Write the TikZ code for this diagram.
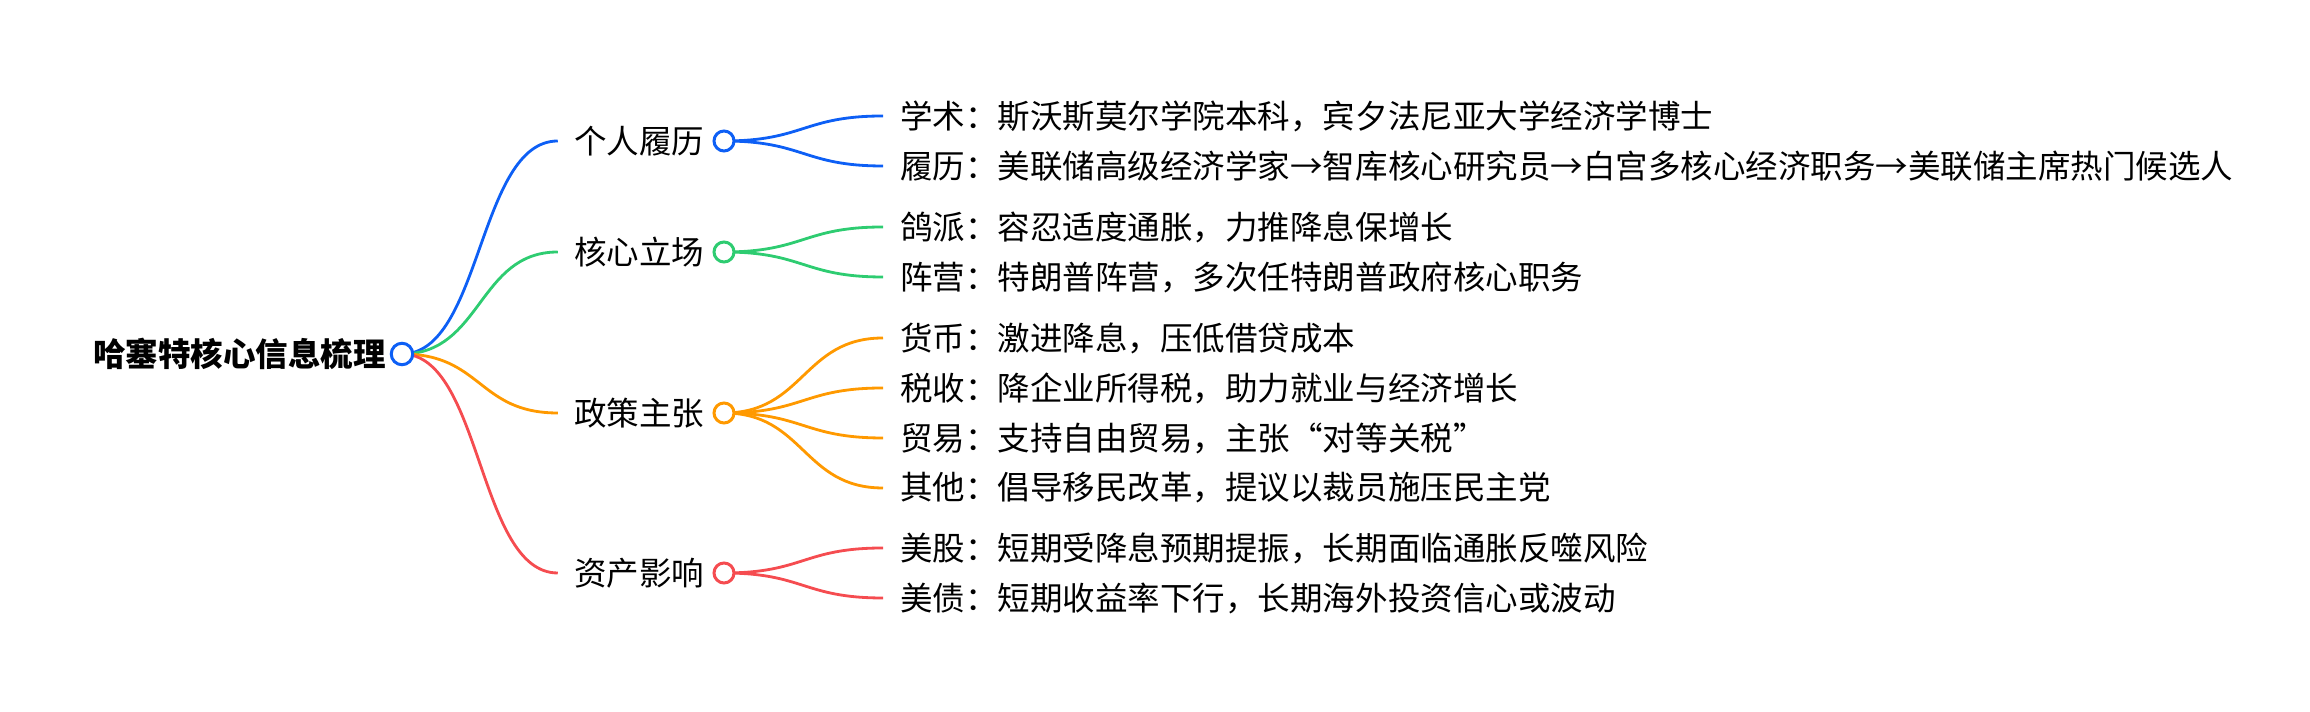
\documentclass[tikz,border=0pt]{standalone}
\usepackage{fontspec}
\usepackage{xcolor}
\usepackage{tikz}
\usetikzlibrary{positioning,calc,backgrounds}
\newfontfamily\cjk{Noto Sans CJK SC}
\definecolor{mapblue}{RGB}{13,95,245}
\definecolor{mapgreen}{RGB}{46,204,113}
\definecolor{maporange}{RGB}{255,153,0}
\definecolor{mapred}{RGB}{245,76,80}

\begin{document}
\begin{tikzpicture}[
 rootlabel/.style={anchor=east, inner sep=0pt, font=\cjk\fontsize{18.5}{22}\selectfont\bfseries},
 topic/.style={anchor=east, inner sep=0pt, font=\cjk\fontsize{18.5}{22}\selectfont},
 leaf/.style={anchor=west, inner sep=0pt, font=\cjk\fontsize{18.5}{22}\selectfont},
 hub/.style={circle, draw=#1, fill=white, line width=1.7pt, minimum size=0.40cm, inner sep=0pt},
 branch/.style={draw=#1, line width=1.6pt}
]
\useasboundingbox (0,0) rectangle (46.2,14.24);

% Root
\node[rootlabel] (root) at (7.72,7.16) {哈塞特核心信息梳理};
\node[hub=mapblue, minimum size=0.43cm] (root_hub) at (8.04,7.16) {};

% Level 1: topics
\node[hub=mapblue] (cv_hub) at (14.48,11.42) {};
\node[topic, left=0.16cm of cv_hub] (cv) {个人履历};
\node[hub=mapgreen] (stance_hub) at (14.48,9.20) {};
\node[topic, left=0.16cm of stance_hub] (stance) {核心立场};
\node[hub=maporange] (policy_hub) at (14.48,5.98) {};
\node[topic, left=0.16cm of policy_hub] (policy) {政策主张};
\node[hub=mapred] (asset_hub) at (14.48,2.78) {};
\node[topic, left=0.16cm of asset_hub] (asset) {资产影响};

% Level 2: personal record
\node[leaf] (cv_edu) at (18.0,11.92) {学术：斯沃斯莫尔学院本科，宾夕法尼亚大学经济学博士};
\node[leaf] (cv_job) at (18.0,10.92) {履历：美联储高级经济学家→智库核心研究员→白宫多核心经济职务→美联储主席热门候选人};

% Level 2: stance
\node[leaf] (st_dove) at (18.0,9.70) {鸽派：容忍适度通胀，力推降息保增长};
\node[leaf] (st_camp) at (18.0,8.70) {阵营：特朗普阵营，多次任特朗普政府核心职务};

% Level 2: policy
\node[leaf] (po_money) at (18.0,7.48) {货币：激进降息，压低借贷成本};
\node[leaf] (po_tax) at (18.0,6.48) {税收：降企业所得税，助力就业与经济增长};
\node[leaf] (po_trade) at (18.0,5.48) {贸易：支持自由贸易，主张“对等关税”};
\node[leaf] (po_other) at (18.0,4.48) {其他：倡导移民改革，提议以裁员施压民主党};

% Level 2: assets
\node[leaf] (as_stock) at (18.0,3.28) {美股：短期受降息预期提振，长期面临通胀反噬风险};
\node[leaf] (as_bond) at (18.0,2.28) {美债：短期收益率下行，长期海外投资信心或波动};

\begin{scope}[on background layer]
% Curves - Root
\draw[branch=mapblue] (root_hub.center) .. controls +(1.6,0) and +(-1.6,0) .. ([xshift=-0.32cm]cv.west);
\draw[branch=mapgreen] (root_hub.center) .. controls +(1.6,0) and +(-1.6,0) .. ([xshift=-0.32cm]stance.west);
\draw[branch=maporange] (root_hub.center) .. controls +(1.6,0) and +(-1.6,0) .. ([xshift=-0.32cm]policy.west);
\draw[branch=mapred] (root_hub.center) .. controls +(1.6,0) and +(-1.6,0) .. ([xshift=-0.32cm]asset.west);

% Curves - Personal record
\draw[branch=mapblue] (cv_hub.center) .. controls +(1.6,0) and +(-1.6,0) .. ([xshift=-0.34cm]cv_edu.west);
\draw[branch=mapblue] (cv_hub.center) .. controls +(1.6,0) and +(-1.6,0) .. ([xshift=-0.34cm]cv_job.west);

% Curves - Stance
\draw[branch=mapgreen] (stance_hub.center) .. controls +(1.6,0) and +(-1.6,0) .. ([xshift=-0.34cm]st_dove.west);
\draw[branch=mapgreen] (stance_hub.center) .. controls +(1.6,0) and +(-1.6,0) .. ([xshift=-0.34cm]st_camp.west);

% Curves - Policy
\draw[branch=maporange] (policy_hub.center) .. controls +(1.6,0) and +(-1.6,0) .. ([xshift=-0.34cm]po_money.west);
\draw[branch=maporange] (policy_hub.center) .. controls +(1.6,0) and +(-1.6,0) .. ([xshift=-0.34cm]po_tax.west);
\draw[branch=maporange] (policy_hub.center) .. controls +(1.6,0) and +(-1.6,0) .. ([xshift=-0.34cm]po_trade.west);
\draw[branch=maporange] (policy_hub.center) .. controls +(1.6,0) and +(-1.6,0) .. ([xshift=-0.34cm]po_other.west);

% Curves - Assets
\draw[branch=mapred] (asset_hub.center) .. controls +(1.6,0) and +(-1.6,0) .. ([xshift=-0.34cm]as_stock.west);
\draw[branch=mapred] (asset_hub.center) .. controls +(1.6,0) and +(-1.6,0) .. ([xshift=-0.34cm]as_bond.west);
\end{scope}

\end{tikzpicture}
\end{document}
